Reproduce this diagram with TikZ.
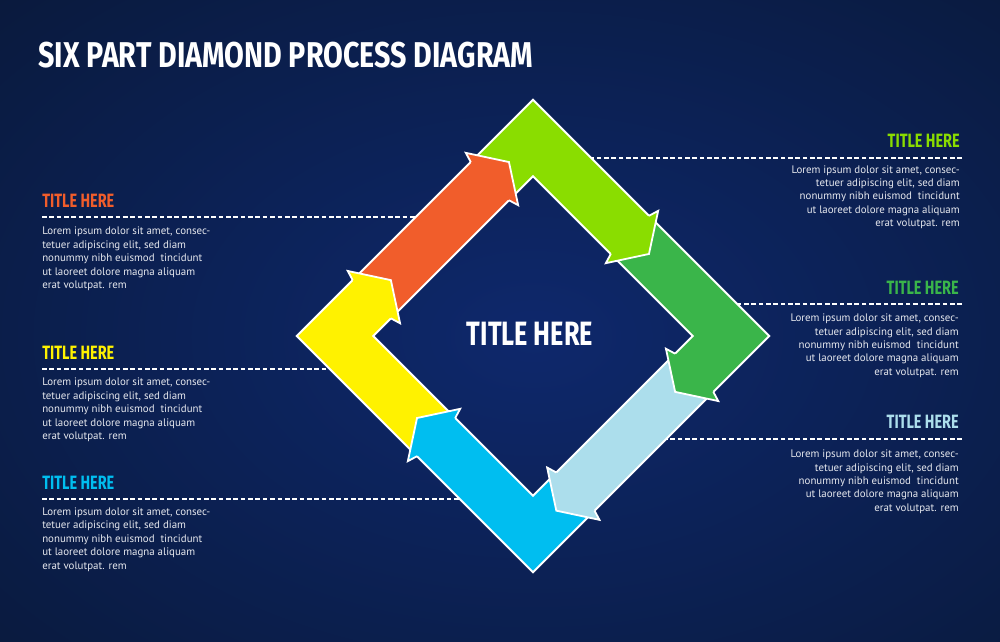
\documentclass[tikz,border=0pt]{standalone}
\usepackage{fontspec}
\setmainfont{PT Sans}
\newfontfamily\headfont{Fira Sans}[FakeStretch=0.75]
\newfontfamily\mainheadfont{Fira Sans}[FakeStretch=0.8]
\usetikzlibrary{positioning, calc}

\definecolor{navyin}{RGB}{14,40,108}
\definecolor{navyout}{RGB}{8,21,45}
\definecolor{segorange}{RGB}{241,93,43}
\definecolor{seglime}{RGB}{138,221,0}
\definecolor{seggreen}{RGB}{58,181,74}
\definecolor{segsky}{RGB}{172,222,236}
\definecolor{segcyan}{RGB}{0,190,240}
\definecolor{segyellow}{RGB}{255,242,0}
\definecolor{bodygrey}{RGB}{230,232,238}

\newcommand{\blurbtext}{Lorem ipsum dolor sit amet, consec-\\tetuer adipiscing elit, sed diam\\nonummy nibh euismod\ \ tincidunt\\ut laoreet dolore magna aliquam\\erat volutpat. rem}

\begin{document}
\begin{tikzpicture}[
    x=0.25mm, y=0.25mm,
    heading/.style={font=\headfont\bfseries\fontsize{13.7}{14}\selectfont, inner sep=0pt},
    bigheading/.style={font=\mainheadfont\bfseries\fontsize{25.5}{28}\selectfont, text=white, inner sep=0pt},
    body/.style={font=\fontsize{7.75}{9.5}\selectfont, text=bodygrey, inner sep=0pt},
    guide/.style={white, line width=0.45mm, dash pattern=on 1.17mm off 0.67mm},
    rim/.style={draw=white, line width=0.5mm},
    head/.style={draw=white, line width=0.45mm, line join=miter}
    ]

    \begin{scope}
        \clip (0,0) rectangle (1000,-642);
        \fill[inner color=navyin, outer color=navyout] (-467,314) rectangle (1533,-986);
    \end{scope}
    \useasboundingbox (0,0) rectangle (1000,-642);

    \node[bigheading, anchor=base west] (main) at (38,-67.7) {SIX PART DIAMOND PROCESS DIAGRAM};

    \coordinate (lineA) at (42,-217.3);
    \coordinate (lineB) at (42,-369.3);
    \coordinate (lineC) at (42,-499.3);
    \coordinate (lineD) at (962,-158.3);
    \coordinate (lineE) at (962,-304.3);
    \coordinate (lineF) at (962,-439.3);
    \coordinate (edgeA) at (416,-217.3);
    \coordinate (edgeB) at (331,-369.3);
    \coordinate (edgeC) at (461,-499.3);
    \coordinate (edgeD) at (591,-158.3);
    \coordinate (edgeE) at (737,-304.3);
    \coordinate (edgeF) at (665,-439.3);

    \draw[guide] (lineA) -- (edgeA);
    \draw[guide] (lineB) -- (edgeB);
    \draw[guide] (lineC) -- (edgeC);
    \draw[guide] (lineD) -- (edgeD);
    \draw[guide] (lineE) -- (edgeE);
    \draw[guide] (lineF) -- (edgeF);

    \node[heading, text=segorange, anchor=base west] (ttlA) at (42,-207) {TITLE HERE};
    \node[heading, text=segyellow, anchor=base west] (ttlB) at (42,-359) {TITLE HERE};
    \node[heading, text=segcyan, anchor=base west] (ttlC) at (42,-489) {TITLE HERE};
    \node[heading, text=seglime, anchor=base east] (ttlD) at (960,-147.7) {TITLE HERE};
    \node[heading, text=seggreen, anchor=base east] (ttlE) at (959,-294.3) {TITLE HERE};
    \node[heading, text=segsky, anchor=base east] (ttlF) at (959,-428.3) {TITLE HERE};

    \node[body, align=left, below=20.35mm of ttlA.base west, anchor=base west] (txtA) {\blurbtext};
    \node[body, align=left, below=20.1mm of ttlB.base west, anchor=base west] (txtB) {\blurbtext};
    \node[body, align=left, below=20mm of ttlC.base west, anchor=base west] (txtC) {\blurbtext};
    \node[body, align=right, below=19.75mm of ttlD.base east, anchor=base east] (txtD) {\blurbtext};
    \node[body, align=right, below=20.2mm of ttlE.base east, anchor=base east] (txtE) {\blurbtext};
    \node[body, align=right, below=20.7mm of ttlF.base east, anchor=base east] (txtF) {\blurbtext};

    \begin{scope}[shift={(533,-336)}, rotate=45]
        \fill[segorange] (-88,113) rectangle (84,167);
        \fill[seglime] (80,113) -- (113,113) -- (113,-2) -- (167,-2) -- (167,167) -- (80,167) -- cycle;
        \fill[seggreen] (113,2) -- (113,-113) -- (83,-113) -- (83,-167) -- (167,-167) -- (167,2) -- cycle;
        \fill[segsky] (87,-113) rectangle (-85,-167);
        \fill[segcyan] (-81,-113) -- (-113,-113) -- (-113,2) -- (-167,2) -- (-167,-167) -- (-81,-167) -- cycle;
        \fill[segyellow] (-113,-2) -- (-113,113) -- (-83,113) -- (-83,167) -- (-167,167) -- (-167,-2) -- cycle;

        \draw[rim] (-167,-167) rectangle (167,167);
        \draw[rim] (-113,-113) rectangle (113,113);

        \filldraw[head, fill=segyellow] (-88,113) -- (-85,103) -- (-61,140) -- (-85,177) -- (-88,167);
        \filldraw[head, fill=segorange] (79,113) -- (82,103) -- (106,140) -- (82,177) -- (79,167);
        \filldraw[head, fill=seglime] (113,3) -- (103,0) -- (140,-24) -- (177,0) -- (167,3);
        \filldraw[head, fill=seggreen] (88,-113) -- (85,-103) -- (61,-140) -- (85,-177) -- (88,-167);
        \filldraw[head, fill=segsky] (-80,-113) -- (-83,-103) -- (-107,-140) -- (-83,-177) -- (-80,-167);
        \filldraw[head, fill=segcyan] (-113,-3) -- (-103,0) -- (-140,24) -- (-177,0) -- (-167,-3);
    \end{scope}

    \node[heading, font=\headfont\bfseries\fontsize{24}{26}\selectfont, text=white] (centre) at (530,-333.4) {TITLE HERE};

\end{tikzpicture}
\end{document}
